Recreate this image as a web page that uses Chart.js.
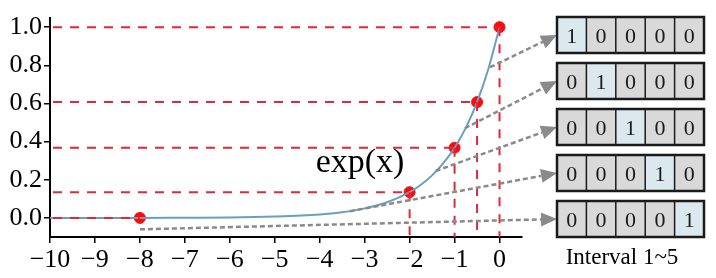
<!DOCTYPE html>
<html>
<head>
<meta charset="utf-8">
<script src="https://cdn.jsdelivr.net/npm/chart.js@4"></script>
<style>
  body { margin: 0; background: #fff; }
  canvas { display: block; }
</style>
</head>
<body>
<canvas id="exp-chart" width="716" height="278"></canvas>
<script>
// curve samples of exp(x)
const curveX = [-10, -9, -8, -7, -6, -5, -4, -3.5, -3, -2.5, -2, -1.75, -1.5, -1.25, -1, -0.75, -0.5, -0.25, 0];
const curveY = [0.000, 0.000, 0.000, 0.001, 0.002, 0.007, 0.018, 0.030, 0.050, 0.082, 0.135, 0.174, 0.223, 0.287, 0.368, 0.472, 0.607, 0.779, 1.000];
// red marked points (interval borders)
const markX = [-8, -2, -1, -0.5, 0];
const markY = [0.0, 0.135, 0.368, 0.607, 1.0];
// one-hot rows, top to bottom
const intervalRows = [
  [1, 0, 0, 0, 0],
  [0, 1, 0, 0, 0],
  [0, 0, 1, 0, 0],
  [0, 0, 0, 1, 0],
  [0, 0, 0, 0, 1],
];
// where each gray arrow starts (data coords), one per row
const arrowFromX = [-0.21, -0.77, -1.42, -3.33, -8];
const arrowFromY = [0.79, 0.47, 0.246, 0.035, -0.06];
const curveLabel = 'exp(x)';
const boxLabel = 'Interval 1~5';

const SERIF = '"Liberation Serif", "Times New Roman", serif';
Chart.defaults.font.family = SERIF;
Chart.defaults.color = '#000';

const overlay = {
  id: 'overlay',
  // red dashed guides: over the curve, under the dots
  afterDatasetDraw(chart, args) {
    if (args.index !== 0) return;
    const { ctx, chartArea, scales: { x, y } } = chart;
    ctx.save();
    ctx.strokeStyle = '#e0283c';
    ctx.lineWidth = 2;
    ctx.setLineDash([9, 8]);
    markX.forEach((v, i) => {
      const px = x.getPixelForValue(v);
      const py = y.getPixelForValue(markY[i]);
      ctx.beginPath();
      ctx.moveTo(chartArea.left + 3, py);
      ctx.lineTo(px, py);
      ctx.stroke();
      if (markY[i] > 0) {
        ctx.beginPath();
        ctx.moveTo(px, py);
        ctx.lineTo(px, chartArea.bottom);
        ctx.stroke();
      }
    });
    ctx.restore();
  },
  afterDatasetsDraw(chart) {
    const { ctx, scales: { x, y } } = chart;
    ctx.save();
    ctx.strokeStyle = '#8a8a8a';
    ctx.fillStyle = '#8a8a8a';
    ctx.lineWidth = 2.5;
    arrowFromX.forEach((v, i) => {
      const sx = x.getPixelForValue(v);
      const sy = y.getPixelForValue(arrowFromY[i]);
      const tx = 557;
      const ty = 17 + i * 46 + 18;
      const ang = Math.atan2(ty - sy, tx - sx);
      const head = 16;
      const ex = tx - head * Math.cos(ang);
      const ey = ty - head * Math.sin(ang);
      ctx.setLineDash([5, 3]);
      ctx.beginPath();
      ctx.moveTo(sx, sy);
      ctx.lineTo(ex, ey);
      ctx.stroke();
      ctx.setLineDash([]);
      ctx.beginPath();
      ctx.moveTo(tx, ty);
      ctx.lineTo(ex + 7 * Math.sin(ang), ey - 7 * Math.cos(ang));
      ctx.lineTo(ex - 7 * Math.sin(ang), ey + 7 * Math.cos(ang));
      ctx.closePath();
      ctx.fill();
    });
    ctx.restore();
  },
  afterDraw(chart) {
    const { ctx } = chart;
    ctx.save();
    // curve label
    ctx.fillStyle = '#000';
    ctx.font = '34px ' + SERIF;
    ctx.textAlign = 'center';
    ctx.textBaseline = 'alphabetic';
    ctx.fillText(curveLabel, 360, 172);

    // one-hot boxes
    const left = 557, cw = 29.4, h = 36;
    intervalRows.forEach((row, r) => {
      const top = 17 + r * 46;
      row.forEach((bit, c) => {
        ctx.fillStyle = bit ? '#dbe8ed' : '#d9d9d9';
        ctx.fillRect(left + c * cw, top, cw, h);
      });
      ctx.strokeStyle = '#1a1a1a';
      ctx.lineWidth = 1.5;
      for (let c = 1; c < row.length; c++) {
        ctx.beginPath();
        ctx.moveTo(left + c * cw, top);
        ctx.lineTo(left + c * cw, top + h);
        ctx.stroke();
      }
      ctx.lineWidth = 2.5;
      ctx.strokeRect(left, top, cw * row.length, h);
      ctx.fillStyle = '#1a1a1a';
      ctx.font = '22px ' + SERIF;
      ctx.textBaseline = 'middle';
      row.forEach((bit, c) => {
        ctx.fillText(String(bit), left + c * cw + cw / 2, top + h / 2 + 2);
      });
    });
    ctx.fillStyle = '#000';
    ctx.font = '23px ' + SERIF;
    ctx.textBaseline = 'alphabetic';
    ctx.fillText(boxLabel, 622, 264);
    ctx.restore();
  },
};

new Chart(document.getElementById('exp-chart'), {
  type: 'line',
  data: {
    datasets: [
      {
        label: 'exp(x)',
        data: curveX.map((v, i) => ({ x: v, y: curveY[i] })),
        borderColor: '#6a9fbe',
        borderWidth: 2,
        pointRadius: 0,
        cubicInterpolationMode: 'monotone',
        fill: false,
      },
      {
        type: 'scatter',
        label: 'points',
        data: markX.map((v, i) => ({ x: v, y: markY[i] })),
        backgroundColor: '#ff0a0a',
        borderColor: '#ff0a0a',
        pointRadius: 5.5,
      },
    ],
  },
  options: {
    responsive: false,
    animation: false,
    layout: { padding: { top: 8, right: 194, left: 0, bottom: 0 } },
    plugins: {
      legend: { display: false },
      tooltip: { enabled: false },
    },
    scales: {
      x: {
        type: 'linear',
        min: -10,
        max: 0.5,
        ticks: {
          stepSize: 1,
          includeBounds: false,
          font: { size: 26 },
          padding: 2,
          maxRotation: 0,
          callback: (v) => (v < 0 ? '\u2212' + Math.abs(v) : String(v)),
        },
        grid: { drawOnChartArea: false, drawTicks: true, tickLength: 6, color: '#000', lineWidth: 1.5 },
        border: { display: true, color: '#000', width: 2 },
        afterFit: (scale) => { scale.height = 41; },
      },
      y: {
        min: -0.1,
        max: 1.05,
        ticks: {
          stepSize: 0.2,
          includeBounds: false,
          font: { size: 26 },
          padding: 2,
          callback: (v) => Number(v).toFixed(1),
        },
        grid: { drawOnChartArea: false, drawTicks: true, tickLength: 6, color: '#000', lineWidth: 1.5 },
        border: { display: true, color: '#000', width: 2 },
        afterFit: (scale) => { scale.width = 50; },
      },
    },
  },
  plugins: [overlay],
});
</script>
</body>
</html>
